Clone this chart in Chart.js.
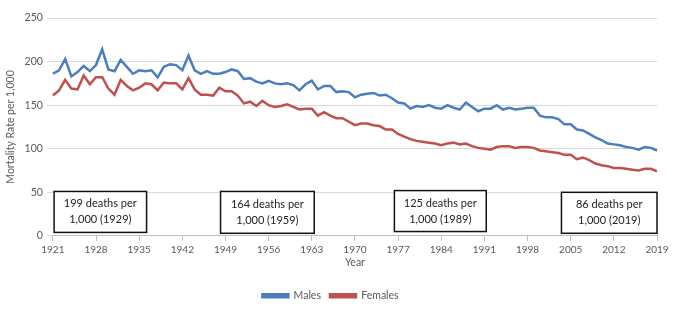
<!DOCTYPE html>
<html>
<head>
<meta charset="utf-8">
<script src="https://cdn.jsdelivr.net/npm/chart.js@4.4.0/dist/chart.umd.min.js"></script>
<style>
html,body{margin:0;padding:0;background:#fff;}
#wrap{width:673px;height:311px;position:relative;}
</style>
</head>
<body>
<div id="wrap"><canvas id="c" width="673" height="311"></canvas></div>
<script>
const startYear = 1921, endYear = 2019;
const years = [];
for (let y = startYear; y <= endYear; y++) years.push(String(y));
const tickYears = ['1921','1928','1935','1942','1949','1956','1963','1970','1977','1984','1991','1998','2005','2012','2019'];
const yTicks = [0,50,100,150,200,250];

const males = [186,190,203,183,188,195,189,196,214,191,189,202,194,186,190,189,190,182,194,197,
196,190,207,190,186,189,186,186,188,191,189,180,181,177,175,178,175,174,175,173,
167,174,178,168,172,172,165,166,165,159,162,163,164,161,162,158,153,152,146,149,
148,150,147,146,150,147,145,153,148,143,146,146,150,145,147,145,146,147,147,138,
136,136,134,128,128,122,121,117,113,110,106,105,104,102,101,99,102,101,98];
const females = [161,167,179,169,168,184,174,182,182,169,162,179,172,167,170,175,174,167,176,175,
175,168,181,168,162,162,161,170,166,166,161,152,154,149,155,150,148,149,151,148,
145,146,146,138,142,138,135,135,131,127,129,129,127,126,122,122,117,114,111,109,
108,107,106,104,106,107,105,106,103,101,100,99,102,103,103,101,102,102,101,98,
97,96,95,93,93,88,90,87,83,81,80,78,78,77,76,75,77,77,74];

const noteLines = [
  ['199 deaths per','1,000 (1929)'],
  ['164 deaths per','1,000 (1959)'],
  ['125 deaths per','1,000 (1989)'],
  ['86 deaths per','1,000 (2019)']
];

const boxPlugin = {
  id: 'notes',
  afterDraw(chart, args, opts) {
    const ctx = chart.ctx, xs = chart.scales.x, ys = chart.scales.y;
    ctx.save();
    opts.boxes.forEach((b, i) => {
      const x0 = xs.getPixelForValue(b.from - startYear);
      const x1 = xs.getPixelForValue(b.to - startYear);
      const y0 = ys.getPixelForValue(b.top);
      const y1 = ys.getPixelForValue(b.bottom);
      ctx.fillStyle = '#fff';
      ctx.fillRect(x0, y0, x1 - x0, y1 - y0);
      ctx.strokeStyle = '#111';
      ctx.lineWidth = 1.5;
      ctx.strokeRect(x0, y0, x1 - x0, y1 - y0);
      ctx.fillStyle = '#222';
      ctx.font = '11px Lato';
      ctx.textAlign = 'center';
      ctx.textBaseline = 'middle';
      const cx = (x0 + x1) / 2, cy = (y0 + y1) / 2;
      ctx.fillText(noteLines[i][0], cx, cy - 8);
      ctx.fillText(noteLines[i][1], cx, cy + 8);
    });
    ctx.restore();
  }
};

new Chart(document.getElementById('c'), {
  type: 'line',
  data: {
    labels: years,
    datasets: [
      {label: 'Males', data: males, borderColor: '#4a7ebf', backgroundColor: '#4a7ebf', borderWidth: 2.5, pointRadius: 0, tension: 0},
      {label: 'Females', data: females, borderColor: '#c0504d', backgroundColor: '#c0504d', borderWidth: 2.5, pointRadius: 0, tension: 0}
    ]
  },
  options: {
    responsive: false,
    animation: false,
    layout: {padding: {left: 4, right: 16, top: 18, bottom: 0}},
    scales: {
      x: {
        type: 'category',
        offset: false,
        grid: {
          drawOnChartArea: false,
          tickLength: 5,
          color: c => (tickYears.includes(years[c.index]) ? '#bfbfbf' : 'rgba(0,0,0,0)')
        },
        border: {color: '#bfbfbf'},
        ticks: {
          autoSkip: false, maxRotation: 0, minRotation: 0,
          color: '#595959', font: {family: 'Lato', size: 10},
          callback: function(v, i) { return tickYears.includes(years[i]) ? years[i] : ''; }
        },
        title: {display: true, text: 'Year', color: '#595959', font: {family: 'Lato', size: 10.5}, padding: {top: -3, bottom: 13}}
      },
      y: {
        min: 0, max: 250,
        afterBuildTicks: ax => { ax.ticks = yTicks.map(v => ({value: v})); },
        grid: {color: '#d9d9d9', tickLength: 6},
        border: {display: false},
        ticks: {color: '#595959', font: {family: 'Lato', size: 10.5}, padding: 4},
        title: {display: true, text: 'Mortality Rate per 1,000', color: '#595959', font: {family: 'Lato', size: 10.5}, padding: {top: 0, bottom: 4}}
      }
    },
    plugins: {
      legend: {
        position: 'bottom',
        labels: {boxWidth: 26, boxHeight: 3, color: '#595959', font: {family: 'Lato', size: 10.5}, padding: 9}
      },
      tooltip: {enabled: false},
      notes: {
        boxes: [
          {from: 1921.2, to: 1936.2, top: 51, bottom: 4},
          {from: 1948.2, to: 1963.4, top: 51, bottom: 3},
          {from: 1976.4, to: 1991.3, top: 52, bottom: 5},
          {from: 2003.5, to: 2019, top: 50, bottom: 3}
        ]
      }
    }
  },
  plugins: [boxPlugin]
});
</script>
</body>
</html>
